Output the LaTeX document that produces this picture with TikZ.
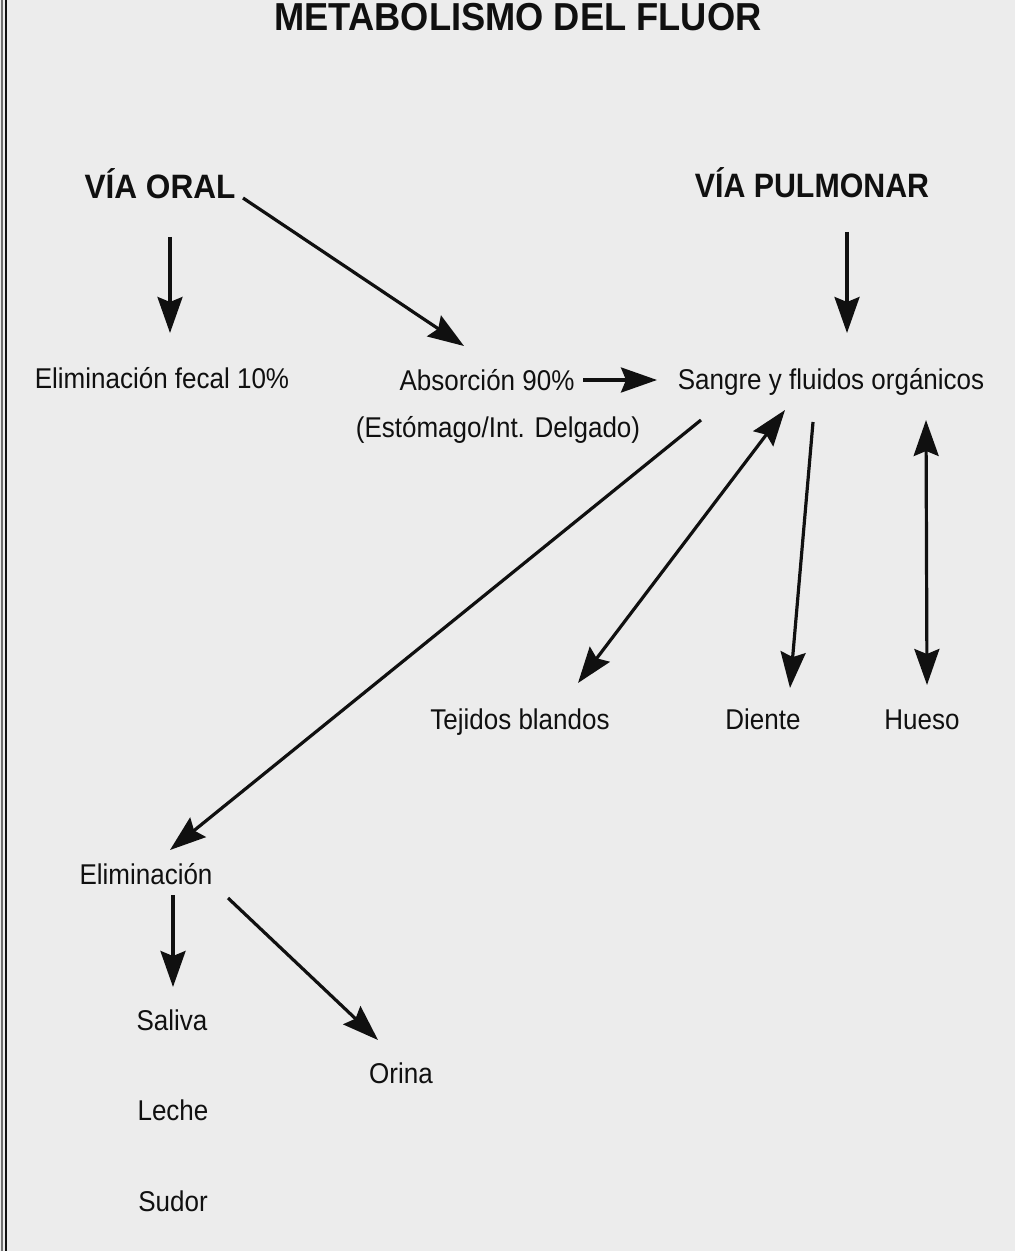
\documentclass[tikz,border=0pt]{standalone}
\usepackage{fontspec}
\setmainfont{Liberation Sans}
\usetikzlibrary{arrows.meta}
\definecolor{bggray}{RGB}{236,236,236}
\definecolor{ink}{RGB}{16,16,16}
\newcommand{\sxt}[1]{\scalebox{1}[1.1]{#1}}
\newcommand{\sxh}[1]{\scalebox{1}[1.07]{#1}}
\begin{document}
\begin{tikzpicture}[x=0.5pt,y=-0.5pt,
  lbl/.style={font=\fontsize{13}{15}\selectfont, text=ink, inner sep=0pt, anchor=base},
  hdr/.style={font=\bfseries\fontsize{15.8}{18}\selectfont, text=ink, inner sep=0pt, anchor=base},
  tip/.tip={Stealth[length=18pt,width=12.5pt,inset=2.5pt]},
  arr/.style={line width=1.6pt, draw=ink, -tip},
  darr/.style={line width=1.6pt, draw=ink, tip-tip}]
\fill[bggray] (0,0) rectangle (1015,1251);
\useasboundingbox (0,0) rectangle (1015,1251);
\draw[ink!60, line width=0.6pt] (2,0) -- (2,1251);
\draw[ink, line width=1.1pt] (6,0) -- (6,1251);

\node[anchor=base, inner sep=0pt, text=ink] (title) at (518,31)
  {\scalebox{0.93}[1]{\bfseries\fontsize{19.5}{22}\selectfont METABOLISMO DEL FLUOR}};

\node[hdr] (vo) at (160,199) {\sxh{VÍA ORAL}};
\node[hdr] (vp) at (812,198) {\scalebox{0.96}[1.07]{VÍA PULMONAR}};
\node[lbl] (fecal) at (162,388) {\sxt{Eliminación fecal 10\%}};
\node[lbl] (abs) at (487,390) {\sxt{Absorción 90\%}};
\node[lbl] (est) at (498,437) {\sxt{(Estómago/Int. Delgado)}};
\node[lbl] (sangre) at (831,389) {\sxt{Sangre y fluidos orgánicos}};
\node[lbl] (tej) at (520,729) {\sxt{Tejidos blandos}};
\node[lbl] (diente) at (763,729) {\sxt{Diente}};
\node[lbl] (hueso) at (922,729) {\sxt{Hueso}};
\node[lbl] (elim) at (146,884) {\sxt{Eliminación}};
\node[lbl] (saliva) at (172,1030) {\sxt{Saliva}};
\node[lbl] (orina) at (401,1083) {\sxt{Orina}};
\node[lbl] (leche) at (173,1120) {\sxt{Leche}};
\node[lbl] (sudor) at (173,1211) {\sxt{Sudor}};

\draw[arr] ([shift={(83,-1)}]vo.base) -- ([shift={(-23,-44)}]abs.base);
\draw[arr] ([shift={(10,38)}]vo.base) -- ([shift={(8,-55)}]fecal.base);
\draw[arr] ([shift={(35,34)}]vp.base) -- ([shift={(16,-56)}]sangre.base);
\draw[arr] ([shift={(96,-10)}]abs.base) -- ([shift={(-174,-9)}]sangre.base);
\draw[arr] ([shift={(-130,31)}]sangre.base) -- ([shift={(24,-34)}]elim.base);
\draw[darr] ([shift={(-46,21)}]sangre.base) -- ([shift={(58,-46)}]tej.base);
\draw[arr] ([shift={(-18,33)}]sangre.base) -- ([shift={(27,-41)}]diente.base);
\draw[darr] ([shift={(95,31)}]sangre.base) -- ([shift={(5,-44)}]hueso.base);
\draw[arr] ([shift={(27,11)}]elim.base) -- ([shift={(1,-43)}]saliva.base);
\draw[arr] ([shift={(82,14)}]elim.base) -- ([shift={(-23,-43)}]orina.base);
\end{tikzpicture}
\end{document}
